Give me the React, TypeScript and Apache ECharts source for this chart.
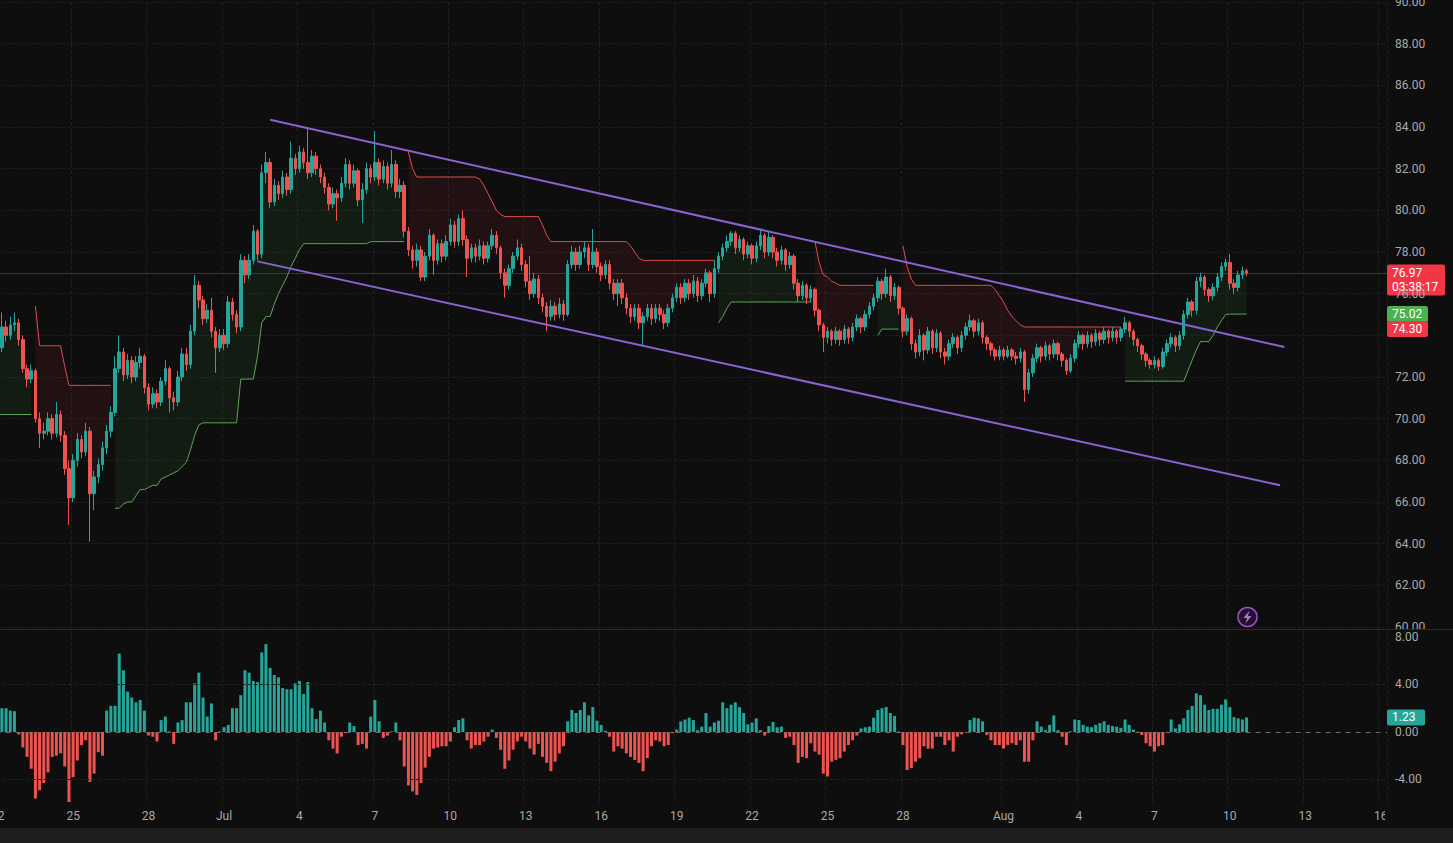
import React, { useEffect, useRef } from "react";
import * as echarts from "echarts";

// ---------- time axis (4h bars, Jun 22 00:00 onward) ----------
const MONTHS: [string, number][] = [["Jun", 30], ["Jul", 31], ["Aug", 31]];
const START_DAY = 22;
const SLOTS = 332;
const BARS_PER_DAY = 6;
const TICK_DAYS = [1, 4, 7, 10, 13, 16, 19, 22, 25, 28];

// ---------- candles [open, close, low, high] ----------
const CANDLES: number[][] = [
  // Jun 22
  [73.0, 73.4, 72.8, 73.9], [73.4, 74.4, 73.2, 75.1], [74.4, 74.0, 73.7, 74.7], [74.0, 74.5, 73.8, 74.9], [74.5, 74.6, 74.2, 75.1], [74.6, 73.8, 73.5, 74.8],
  // Jun 23
  [73.8, 72.4, 72.2, 74.0], [72.4, 71.9, 71.5, 72.6], [71.9, 72.3, 71.7, 72.6], [72.3, 70.0, 69.8, 72.4], [70.0, 69.3, 68.6, 70.3], [69.3, 69.4, 69.0, 69.8],
  // Jun 24
  [69.4, 70.0, 69.2, 70.3], [70.0, 69.3, 69.0, 70.2], [69.3, 70.2, 69.1, 70.8], [70.2, 69.2, 68.9, 70.4], [69.2, 67.6, 67.3, 69.4], [67.6, 66.2, 64.9, 68.0],
  // Jun 25
  [66.2, 68.0, 66.0, 68.3], [68.0, 69.0, 67.7, 69.3], [69.0, 68.4, 68.1, 69.2], [68.4, 69.4, 68.2, 69.8], [69.4, 66.4, 64.1, 69.6], [66.4, 67.2, 65.6, 67.5],
  // Jun 26
  [67.2, 67.8, 66.9, 68.1], [67.8, 68.6, 67.5, 68.9], [68.6, 69.4, 68.3, 69.7], [69.4, 70.3, 69.1, 70.6], [70.3, 72.4, 70.1, 73.0], [72.4, 73.2, 72.2, 74.0],
  // Jun 27
  [73.2, 72.1, 71.8, 73.4], [72.1, 72.8, 71.9, 73.1], [72.8, 72.0, 71.7, 73.0], [72.0, 72.7, 71.8, 73.0], [72.7, 73.0, 72.4, 73.4], [73.0, 71.5, 71.2, 73.1],
  // Jun 28
  [71.5, 70.7, 70.4, 71.7], [70.7, 71.2, 70.5, 71.5], [71.2, 70.8, 70.5, 71.4], [70.8, 71.8, 70.6, 72.0], [71.8, 72.4, 71.6, 72.8], [72.4, 71.0, 70.3, 72.5],
  // Jun 29
  [71.0, 70.8, 70.4, 71.3], [70.8, 72.0, 70.6, 72.3], [72.0, 73.1, 71.8, 73.4], [73.1, 72.6, 72.3, 73.4], [72.6, 74.2, 72.4, 74.5], [74.2, 76.4, 74.0, 76.9],
  // Jun 30
  [76.4, 75.7, 75.3, 76.6], [75.7, 74.8, 74.5, 75.9], [74.8, 75.2, 74.6, 75.5], [75.2, 74.2, 73.9, 75.8], [74.2, 73.4, 72.2, 74.4], [73.4, 74.0, 73.2, 74.3],
  // Jul 1
  [74.0, 73.6, 73.3, 74.3], [73.6, 75.6, 73.4, 75.9], [75.6, 75.0, 74.7, 75.8], [75.0, 74.4, 74.1, 75.2], [74.4, 77.6, 74.2, 77.9], [77.6, 76.9, 76.5, 77.8],
  // Jul 2
  [76.9, 77.6, 76.7, 77.9], [77.6, 79.0, 77.4, 79.3], [79.0, 77.9, 77.6, 79.1], [77.9, 81.8, 77.7, 82.2], [81.8, 82.3, 81.3, 82.8], [82.3, 80.4, 80.1, 82.5],
  // Jul 3
  [80.4, 81.2, 80.2, 81.5], [81.2, 80.8, 80.5, 81.4], [80.8, 81.6, 80.6, 81.9], [81.6, 81.0, 80.7, 81.8], [81.0, 82.5, 80.8, 83.3], [82.5, 82.0, 81.7, 82.7],
  // Jul 4
  [82.0, 82.8, 81.8, 83.1], [82.8, 82.3, 82.0, 83.0], [82.3, 81.8, 81.5, 84.0], [81.8, 82.6, 81.6, 82.9], [82.6, 82.0, 81.7, 82.8], [82.0, 81.6, 81.3, 82.2],
  // Jul 5
  [81.6, 81.1, 80.8, 81.8], [81.1, 80.3, 80.0, 81.3], [80.3, 80.8, 80.1, 81.1], [80.8, 80.6, 79.5, 81.0], [80.6, 81.3, 80.4, 81.6], [81.3, 82.2, 81.1, 82.5],
  // Jul 6
  [82.2, 81.3, 81.0, 82.4], [81.3, 81.9, 81.1, 82.2], [81.9, 80.5, 80.2, 82.0], [80.5, 81.0, 79.4, 81.3], [81.0, 82.0, 80.8, 82.3], [82.0, 81.6, 81.3, 82.2],
  // Jul 7
  [81.6, 82.3, 81.4, 83.8], [82.3, 81.5, 81.2, 82.5], [81.5, 82.1, 81.3, 82.4], [82.1, 81.3, 81.0, 82.3], [81.3, 82.2, 81.1, 82.9], [82.2, 80.9, 80.6, 82.4],
  // Jul 8
  [80.9, 81.2, 80.6, 81.5], [81.2, 79.0, 78.7, 81.4], [79.0, 78.1, 77.8, 79.2], [78.1, 77.6, 77.2, 78.3], [77.6, 78.1, 77.3, 78.4], [78.1, 76.8, 76.6, 78.3],
  // Jul 9
  [76.8, 77.8, 76.6, 78.0], [77.8, 78.8, 77.6, 79.1], [78.8, 77.6, 76.9, 78.9], [77.6, 78.4, 77.4, 78.6], [78.4, 77.8, 77.5, 78.6], [77.8, 78.5, 77.6, 78.8],
  // Jul 10
  [78.5, 79.3, 78.3, 79.6], [79.3, 78.5, 78.2, 79.5], [78.5, 79.6, 78.3, 79.8], [79.6, 78.6, 78.3, 80.0], [78.6, 77.7, 76.8, 78.8], [77.7, 78.2, 77.5, 78.4],
  // Jul 11
  [78.2, 77.8, 77.5, 78.4], [77.8, 78.3, 77.6, 78.6], [78.3, 77.7, 77.4, 78.5], [77.7, 78.3, 77.5, 78.5], [78.3, 78.8, 78.1, 79.1], [78.8, 78.2, 77.9, 79.0],
  // Jul 12
  [78.2, 77.0, 76.7, 78.3], [77.0, 76.4, 75.8, 77.2], [76.4, 77.2, 76.2, 77.4], [77.2, 77.8, 77.0, 78.0], [77.8, 78.2, 77.6, 78.6], [78.2, 77.4, 77.1, 78.4],
  // Jul 13
  [77.4, 76.6, 76.3, 77.6], [76.6, 76.0, 75.7, 77.8], [76.0, 76.7, 75.8, 77.0], [76.7, 75.8, 75.5, 76.9], [75.8, 75.4, 75.1, 76.0], [75.4, 74.9, 74.2, 75.6],
  // Jul 14
  [74.9, 75.4, 74.7, 75.7], [75.4, 75.0, 74.7, 75.6], [75.0, 75.5, 74.8, 75.8], [75.5, 75.0, 74.7, 75.7], [75.0, 77.4, 74.9, 77.6], [77.4, 78.0, 77.2, 78.3],
  // Jul 15
  [78.0, 77.4, 77.1, 78.2], [77.4, 78.0, 77.2, 78.3], [78.0, 78.2, 77.7, 78.5], [78.2, 77.4, 77.1, 78.4], [77.4, 78.0, 77.2, 79.1], [78.0, 77.3, 77.0, 78.2],
  // Jul 16
  [77.3, 76.9, 76.6, 77.5], [76.9, 77.4, 76.7, 77.6], [77.4, 76.5, 76.2, 77.6], [76.5, 76.0, 75.7, 76.7], [76.0, 76.5, 75.4, 76.7], [76.5, 75.8, 75.5, 76.7],
  // Jul 17
  [75.8, 75.3, 75.0, 76.0], [75.3, 74.9, 74.6, 75.5], [74.9, 75.3, 74.7, 75.5], [75.3, 74.6, 74.3, 75.5], [74.6, 74.9, 73.5, 75.1], [74.9, 75.3, 74.7, 75.5],
  // Jul 18
  [75.3, 74.8, 74.5, 75.5], [74.8, 75.3, 74.6, 75.5], [75.3, 75.0, 74.7, 75.5], [75.0, 74.6, 74.3, 75.2], [74.6, 75.3, 74.4, 75.5], [75.3, 75.8, 75.1, 76.0],
  // Jul 19
  [75.8, 76.3, 75.6, 76.5], [76.3, 75.8, 75.5, 76.5], [75.8, 76.5, 75.6, 76.7], [76.5, 76.0, 75.7, 76.7], [76.0, 76.6, 75.8, 76.9], [76.6, 75.9, 75.6, 76.8],
  // Jul 20
  [75.9, 76.5, 75.7, 76.7], [76.5, 77.0, 76.3, 77.2], [77.0, 76.0, 75.6, 77.1], [76.0, 77.2, 75.8, 77.6], [77.2, 77.8, 77.0, 78.0], [77.8, 78.2, 77.6, 78.4],
  // Jul 21
  [78.2, 78.5, 78.0, 78.8], [78.5, 78.9, 78.3, 79.0], [78.9, 78.2, 77.9, 79.0], [78.2, 78.6, 78.0, 78.8], [78.6, 77.9, 77.6, 78.7], [77.9, 78.3, 77.7, 78.5],
  // Jul 22
  [78.3, 77.7, 77.4, 78.4], [77.7, 78.3, 77.5, 78.5], [78.3, 78.8, 78.1, 79.1], [78.8, 78.0, 77.7, 78.9], [78.0, 78.7, 77.8, 79.0], [78.7, 78.0, 77.7, 78.8],
  // Jul 23
  [78.0, 77.6, 77.3, 78.2], [77.6, 78.1, 77.4, 78.3], [78.1, 77.4, 77.1, 78.2], [77.4, 77.8, 77.2, 78.0], [77.8, 76.5, 76.2, 77.9], [76.5, 75.9, 75.6, 76.7],
  // Jul 24
  [75.9, 76.4, 75.7, 76.6], [76.4, 75.8, 75.5, 76.5], [75.8, 76.2, 75.6, 76.4], [76.2, 75.2, 74.9, 76.3], [75.2, 74.5, 74.2, 75.3], [74.5, 73.9, 73.2, 74.6],
  // Jul 25
  [73.9, 74.2, 73.6, 74.4], [74.2, 73.8, 73.5, 74.3], [73.8, 74.2, 73.6, 74.4], [74.2, 73.8, 73.5, 74.3], [73.8, 74.3, 73.6, 74.5], [74.3, 73.9, 73.6, 74.4],
  // Jul 26
  [73.9, 74.4, 73.7, 74.6], [74.4, 74.8, 74.2, 75.0], [74.8, 74.4, 74.1, 74.9], [74.4, 75.0, 74.2, 75.2], [75.0, 75.4, 74.8, 75.6], [75.4, 75.8, 75.2, 76.0],
  // Jul 27
  [75.8, 76.6, 75.6, 76.8], [76.6, 76.0, 75.7, 76.7], [76.0, 76.8, 75.8, 77.2], [76.8, 75.9, 75.6, 76.9], [75.9, 76.3, 75.7, 76.5], [76.3, 75.3, 75.0, 76.4],
  // Jul 28
  [75.3, 74.2, 73.9, 75.4], [74.2, 74.8, 74.0, 75.0], [74.8, 73.6, 73.3, 74.9], [73.6, 73.2, 72.9, 73.8], [73.2, 74.0, 73.0, 74.3], [74.0, 73.3, 72.8, 74.1],
  // Jul 29
  [73.3, 74.2, 73.1, 74.4], [74.2, 73.4, 73.1, 74.3], [73.4, 74.1, 73.2, 74.3], [74.1, 73.2, 72.9, 74.2], [73.2, 73.0, 72.6, 73.4], [73.0, 73.6, 72.8, 73.8],
  // Jul 30
  [73.6, 73.9, 73.4, 74.1], [73.9, 73.4, 73.1, 74.0], [73.4, 74.0, 73.2, 74.2], [74.0, 74.4, 73.8, 74.6], [74.4, 74.7, 74.2, 75.0], [74.7, 74.2, 73.9, 74.8],
  // Jul 31
  [74.2, 74.6, 74.0, 74.8], [74.6, 73.9, 73.6, 74.7], [73.9, 73.6, 73.3, 74.0], [73.6, 73.3, 73.0, 73.7], [73.3, 73.0, 72.8, 73.4], [73.0, 73.3, 72.8, 73.5],
  // Aug 1
  [73.3, 73.0, 72.8, 73.4], [73.0, 73.3, 72.9, 73.5], [73.3, 73.0, 72.8, 73.4], [73.0, 72.9, 72.6, 73.2], [72.9, 73.2, 72.7, 73.4], [73.2, 71.4, 70.8, 73.3],
  // Aug 2
  [71.4, 72.2, 71.2, 72.4], [72.2, 72.9, 72.0, 73.1], [72.9, 73.4, 72.7, 73.6], [73.4, 73.0, 72.7, 73.5], [73.0, 73.5, 72.8, 73.7], [73.5, 73.1, 72.8, 73.6],
  // Aug 3
  [73.1, 73.6, 72.9, 73.8], [73.6, 73.1, 72.8, 73.7], [73.1, 72.8, 72.5, 73.2], [72.8, 72.3, 72.1, 72.9], [72.3, 72.9, 72.2, 73.1], [72.9, 73.6, 72.7, 73.8],
  // Aug 4
  [73.6, 74.0, 73.4, 74.2], [74.0, 73.6, 73.3, 74.1], [73.6, 74.0, 73.4, 74.2], [74.0, 73.7, 73.4, 74.1], [73.7, 74.1, 73.5, 74.3], [74.1, 73.8, 73.5, 74.2],
  // Aug 5
  [73.8, 74.2, 73.6, 74.4], [74.2, 73.9, 73.6, 74.3], [73.9, 74.2, 73.7, 74.4], [74.2, 73.9, 73.6, 74.3], [73.9, 74.3, 73.7, 74.4], [74.3, 74.6, 74.1, 74.9],
  // Aug 6
  [74.6, 74.2, 73.9, 74.7], [74.2, 73.8, 73.5, 74.3], [73.8, 73.5, 73.2, 73.9], [73.5, 73.1, 72.8, 73.6], [73.1, 72.8, 72.5, 73.2], [72.8, 72.6, 72.4, 72.9],
  // Aug 7
  [72.6, 72.8, 72.4, 73.0], [72.8, 72.5, 72.3, 72.9], [72.5, 73.2, 72.4, 73.4], [73.2, 73.6, 73.0, 73.8], [73.6, 73.9, 73.4, 74.1], [73.9, 73.5, 73.2, 74.0],
  // Aug 8
  [73.5, 74.0, 73.3, 74.2], [74.0, 75.0, 73.8, 75.2], [75.0, 75.6, 74.8, 75.8], [75.6, 75.2, 74.9, 75.7], [75.2, 76.6, 75.0, 76.8], [76.6, 76.8, 76.3, 77.0],
  // Aug 9
  [76.8, 76.2, 75.9, 76.9], [76.2, 75.9, 75.6, 76.3], [75.9, 76.3, 75.7, 76.5], [76.3, 76.8, 76.1, 77.0], [76.8, 77.3, 76.6, 77.5], [77.3, 77.5, 77.1, 77.7],
  // Aug 10
  [77.5, 76.5, 76.2, 77.9], [76.5, 76.3, 76.0, 76.7], [76.3, 76.9, 76.1, 77.1], [76.9, 77.1, 76.7, 77.3], [77.1, 76.97, 76.85, 77.2],
];

// ---------- supertrend level, as [value, number of bars] runs ----------
const ST_RUNS: [number, number][] = [
  [70.2, 9], [75.4, 1], [73.5, 6], [72.5, 1], [71.6, 11],
  [65.7, 2], [65.9, 1], [66.0, 2], [66.3, 1], [66.6, 2], [66.7, 1], [66.8, 2], [67.1, 1], [67.2, 1], [67.3, 1], [67.4, 1],
  [67.5, 1], [67.7, 1], [67.9, 1], [68.5, 1], [69.2, 1], [69.7, 1], [69.8, 9], [71.9, 4], [73.0, 1], [74.6, 1], [74.9, 2],
  [75.5, 1], [76.0, 1], [76.4, 1], [76.8, 1], [77.3, 1], [77.7, 1], [78.1, 1], [78.4, 16], [78.5, 9],
  [82.8, 1], [82.0, 1], [81.6, 15], [81.5, 1], [81.2, 1], [80.8, 1], [80.4, 1], [80.0, 1], [79.8, 1], [79.7, 9],
  [79.3, 1], [78.8, 1], [78.5, 19], [78.3, 1], [78.0, 1], [77.7, 1], [77.6, 18],
  [74.6, 1], [74.9, 1], [75.3, 1], [75.6, 20],
  [78.5, 1], [77.5, 1], [76.9, 1], [76.8, 1], [76.6, 1], [76.5, 1], [76.4, 9],
  [74.0, 1], [74.3, 5],
  [78.3, 1], [77.3, 1], [76.7, 1], [76.4, 19], [76.2, 1], [75.9, 1], [75.6, 1], [75.2, 1], [74.9, 1], [74.7, 1], [74.5, 1], [74.4, 24],
  [71.8, 15], [72.3, 1], [72.8, 1], [73.3, 1], [73.7, 3], [74.0, 1], [74.4, 1], [74.7, 1], [75.0, 1], [75.02, 5],
];
// [first bar, last bar, direction (1 up / -1 down)]
const TREND_SEGMENTS: [number, number, number][] = [
  [0, 8, 1], [9, 27, -1], [28, 97, 1], [98, 171, -1], [172, 194, 1],
  [195, 209, -1], [210, 215, 1], [216, 268, -1], [269, 298, 1],
];

// ---------- momentum histogram ----------
const MOMENTUM: number[] = [
  1.9, 2.0, 2.0, 1.8, 1.75, -0.2,
  -1.3, -2.1, -3.1, -5.6, -4.9, -4.3,
  -3.4, -2.1, -2.0, -1.8, -2.9, -5.9,
  -3.8, -2.4, -1.1, -0.7, -4.2, -3.5,
  -1.7, -2.0, 1.8, 2.2, 2.2, 6.6,
  5.2, 3.4, 2.9, 2.5, 2.7, 1.8,
  -0.3, -0.4, -0.8, 1.0, 1.3, 0.05,
  -1.0, 0.8, 1.0, 2.5, 2.5, 4.1,
  5.0, 2.9, 1.3, 2.4, -0.7, 0.05,
  0.4, 0.6, 2.0, 2.0, 3.1, 5.2,
  5.0, 4.3, 4.2, 6.7, 7.4, 5.4,
  4.8, 4.6, 3.7, 3.6, 3.6, 4.1,
  4.3, 3.2, 4.2, 2.0, 1.1, 1.8,
  0.8, -0.7, -1.4, -1.8, -0.4, -0.1,
  0.8, 0.5, -1.1, -1.0, -1.4, 1.3,
  2.7, 0.9, -0.5, -0.3, 0.05, 0.8,
  -0.7, -2.9, -4.5, -5.0, -5.3, -4.3,
  -3.0, -2.1, -1.4, -1.3, -1.2, -1.2,
  -0.8, 0.4, 1.0, 1.15, -0.7, -1.4,
  -1.1, -1.1, -0.8, -0.4, 0.2, -0.5,
  -1.5, -3.1, -2.4, -1.5, -0.8, -0.4,
  -0.8, -1.4, -1.9, -1.0, -2.1, -2.6,
  -3.3, -2.5, -1.8, -1.2, 0.9, 1.85,
  1.6, 1.85, 2.5, 1.4, 2.1, 0.95,
  0.6, 0.1, -0.4, -1.65, -1.2, -1.4,
  -1.8, -2.1, -2.35, -2.6, -3.3, -2.2,
  -1.2, -0.7, -0.8, -1.2, -1.1, -0.1,
  0.2, 0.9, 1.05, 1.2, 1.0, 0.15,
  0.45, 1.6, 0.45, 0.8, 0.95, 2.5,
  2.0, 2.3, 2.5, 2.1, 1.6, 0.65,
  0.8, 1.15, 0.15, -0.3, 0.5, 0.85,
  0.4, 0.45, -0.5, -0.4, -1.1, -2.6,
  -2.1, -2.2, -0.95, -1.65, -1.9, -3.5,
  -3.75, -2.5, -2.35, -2.2, -1.65, -1.1,
  -0.7, -0.3, 0.3, 0.4, 0.45, 1.2,
  1.85, 2.0, 2.1, 1.6, 1.35, 0.05,
  -1.1, -3.2, -3.05, -2.5, -2.2, -1.2,
  -1.4, -1.4, -0.4, -0.4, -1.1, -0.7,
  -1.65, -0.4, -0.2, -0.05, 1.0, 1.2,
  1.15, 0.9, -0.25, -0.7, -1.1, -1.1,
  -1.4, -1.1, -0.95, -1.1, -0.7, -2.5,
  -2.5, -0.7, 0.9, 0.45, 0.15, 0.6,
  1.4, 0.15, -0.4, -1.1, 0.05, 1.05,
  1.0, 0.6, 0.45, 0.4, 0.6, 0.75,
  0.9, 0.6, 0.5, 0.45, 0.35, 1.05,
  0.6, 0.2, 0.02, -0.25, -0.95, -1.2,
  -1.65, -1.2, -1.1, -0.05, 1.05, 0.3,
  0.65, 1.15, 1.85, 2.2, 3.25, 3.1,
  2.3, 1.85, 1.95, 1.95, 2.3, 2.75,
  2.1, 1.25, 1.15, 1.05, 1.23,
];

// ---------- drawn channel (bar index, price) ----------
const CHANNEL_UPPER: [number, number][] = [[65, 84.35], [307, 73.44]];
const CHANNEL_LOWER: [number, number][] = [[62, 77.55], [306, 66.8]];

// ---------- scale tags ----------
const LAST_PRICE = 76.97;
const COUNTDOWN = "03:38:17";
const ST_UP_TAG = 75.02;
const ST_DN_TAG = 74.3;
const MOM_TAG = 1.23;
const PRICE_MIN = 60, PRICE_MAX = 90, PRICE_STEP = 2;
const PRICE_HIDDEN = [74]; // fully covered by the tags in the reference
const MOM_LABELS = [-4, 0, 4, 8];

const UP = "#26a69a";
const DOWN = "#ef5350";
const BG = "#0e0e0e";
const TXT = "#a9a9a9";
const FONT = "Roboto, 'Noto Sans', sans-serif";

function buildCategories() {
  const cats: string[] = [];
  const meta: { mon: string; day: number; hour: number }[] = [];
  let m = 0, d = START_DAY, h = 0;
  for (let i = 0; i < SLOTS; i++) {
    cats.push(`${MONTHS[m][0]} ${d} ${String(h).padStart(2, "0")}:00`);
    meta.push({ mon: MONTHS[m][0], day: d, hour: h });
    h += 24 / BARS_PER_DAY;
    if (h >= 24) {
      h = 0; d++;
      if (d > MONTHS[m][1]) { d = 1; m++; }
    }
  }
  return { cats, meta };
}

export default function App() {
  const ref = useRef<HTMLDivElement>(null);
  useEffect(() => {
    document.body.style.margin = "0";
    document.body.style.background = BG;
    const chart = echarts.init(ref.current!, undefined, { renderer: "svg" });
    const { cats, meta } = buildCategories();
    const isTick = (i: number) => !!meta[i] && meta[i].hour === 0 && TICK_DAYS.includes(meta[i].day);

    const st: number[] = [];
    ST_RUNS.forEach(([v, n]) => { for (let k = 0; k < n; k++) st.push(v); });
    const trend: number[] = new Array(CANDLES.length).fill(0);
    TREND_SEGMENTS.forEach(([a, b, dir]) => { for (let k = a; k <= b; k++) trend[k] = dir; });
    const mid = CANDLES.map((r) => (r[0] + r[1]) / 2);

    const upLine = st.map((v, i) => (trend[i] === 1 ? v : null));
    const dnLine = st.map((v, i) => (trend[i] === -1 ? v : null));
    const upBase = st.map((v, i) => (trend[i] === 1 ? v : "-"));
    const upBand = st.map((v, i) => (trend[i] === 1 ? Math.max(0, mid[i] - v) : "-"));
    const dnBase = mid.map((v, i) => (trend[i] === -1 ? v : "-"));
    const dnBand = st.map((v, i) => (trend[i] === -1 ? Math.max(0, v - mid[i]) : "-"));

    const gridLeft = -4.4, gridRight = 66;
    const hiddenLine = { lineStyle: { opacity: 0 }, symbol: "none", showSymbol: false };
    const momMin = -6.15, momMax = 8.59;

    chart.setOption({
      animation: false,
      backgroundColor: BG,
      textStyle: { fontFamily: FONT },
      grid: [
        { left: gridLeft, right: gridRight, top: 2, height: 625, outerBoundsMode: "none", containLabel: false },
        { left: gridLeft, right: gridRight, top: 630, height: 175, outerBoundsMode: "none", containLabel: false },
      ],
      xAxis: [
        {
          type: "category", gridIndex: 0, data: cats, boundaryGap: true,
          axisLine: { show: false }, axisTick: { show: false }, axisLabel: { show: false },
          splitLine: { show: true, interval: (i: number) => isTick(i), lineStyle: { color: "#1e1e1e", type: "dashed" } },
        },
        {
          type: "category", gridIndex: 1, data: cats, boundaryGap: true,
          axisLine: { show: false }, axisTick: { show: false },
          axisLabel: {
            interval: (i: number) => isTick(i),
            formatter: (_v: string, i: number) => (meta[i].day === 1 ? meta[i].mon : String(meta[i].day)),
            color: TXT, fontSize: 12, margin: 5, fontFamily: FONT,
          },
          splitLine: { show: true, interval: (i: number) => isTick(i), lineStyle: { color: "#1e1e1e", type: "dashed" } },
        },
      ],
      yAxis: [
        {
          type: "value", gridIndex: 0, position: "right", min: PRICE_MIN, max: PRICE_MAX, interval: PRICE_STEP, z: 1,
          axisLine: { show: false }, axisTick: { show: false },
          axisLabel: { formatter: (v: number) => (PRICE_HIDDEN.includes(v) ? "" : v.toFixed(2)), color: TXT, fontSize: 12, margin: 8, fontFamily: FONT },
          splitLine: { show: true, lineStyle: { color: "#1c1c1c", type: "dashed" } },
        },
        {
          type: "value", gridIndex: 1, position: "right", min: momMin, max: momMax, z: 3,
          axisLine: { show: false }, axisTick: { show: false, customValues: MOM_LABELS },
          axisLabel: { customValues: MOM_LABELS, formatter: (v: number) => v.toFixed(2), color: TXT, fontSize: 12, margin: 8, fontFamily: FONT },
          splitLine: { show: false },
        },
      ],
      series: [
        { name: "upBase", type: "line", xAxisIndex: 0, yAxisIndex: 0, stack: "up", data: upBase, ...hiddenLine, z: 1, silent: true },
        { name: "upBand", type: "line", xAxisIndex: 0, yAxisIndex: 0, stack: "up", data: upBand, ...hiddenLine, areaStyle: { color: "rgba(76,175,80,0.13)" }, z: 1, silent: true },
        { name: "dnBase", type: "line", xAxisIndex: 0, yAxisIndex: 0, stack: "dn", data: dnBase, ...hiddenLine, z: 1, silent: true },
        { name: "dnBand", type: "line", xAxisIndex: 0, yAxisIndex: 0, stack: "dn", data: dnBand, ...hiddenLine, areaStyle: { color: "rgba(242,54,69,0.13)" }, z: 1, silent: true },
        { name: "Up Trend", type: "line", xAxisIndex: 0, yAxisIndex: 0, data: upLine, symbol: "none", lineStyle: { color: "#5fa35a", width: 1 }, z: 2, silent: true },
        { name: "Down Trend", type: "line", xAxisIndex: 0, yAxisIndex: 0, data: dnLine, symbol: "none", lineStyle: { color: "#e24a4f", width: 1 }, z: 2, silent: true },
        {
          name: "Price", type: "candlestick", xAxisIndex: 0, yAxisIndex: 0, data: CANDLES, barWidth: 3, z: 3,
          itemStyle: { color: UP, color0: DOWN, borderColor: UP, borderColor0: DOWN, borderWidth: 1 },
          markLine: {
            silent: true, symbol: ["none", "none"], label: { show: false },
            lineStyle: { color: "#f23645", type: "dotted", width: 1, opacity: 0.8 },
            data: [{ yAxis: LAST_PRICE }],
          },
        },
        { name: "Channel top", type: "line", xAxisIndex: 0, yAxisIndex: 0, data: CHANNEL_UPPER, symbol: "none", lineStyle: { color: "#8a63d2", width: 2 }, z: 4, silent: true },
        { name: "Channel bottom", type: "line", xAxisIndex: 0, yAxisIndex: 0, data: CHANNEL_LOWER, symbol: "none", lineStyle: { color: "#8a63d2", width: 2 }, z: 4, silent: true },
        {
          name: "Momentum", type: "bar", xAxisIndex: 1, yAxisIndex: 1, data: MOMENTUM, barWidth: 3,
          itemStyle: { color: (p: any) => (p.value >= 0 ? UP : DOWN) },
          markLine: {
            silent: true, symbol: ["none", "none"], label: { show: false },
            data: [
              { yAxis: 0, lineStyle: { color: "#6a6a6a", type: [5, 5], width: 1 } },
              { yAxis: 4, lineStyle: { color: "#1e1e1e", type: "dashed", width: 1 } },
              { yAxis: -4, lineStyle: { color: "#1e1e1e", type: "dashed", width: 1 } },
            ],
          },
        },
      ],
    });

    const py = (v: number) => chart.convertToPixel({ yAxisIndex: 0 }, v) as number;
    const my = (v: number) => chart.convertToPixel({ yAxisIndex: 1 }, v) as number;
    const tagX = 1387;
    const tag = (y: number, w: number, color: string, text: string) => ({
      type: "group", z: 100,
      children: [
        { type: "rect", shape: { x: tagX, y: y - 8, width: w, height: 16, r: 2 }, style: { fill: color } },
        { type: "text", style: { x: tagX + 5, y, text, fill: "#ffffff", font: `12px ${FONT}`, verticalAlign: "middle" } },
      ],
    });
    const lp = py(LAST_PRICE);
    chart.setOption({
      graphic: [
        // pane separator clips the bottom of the lowest price label
        { type: "rect", z: 2, shape: { x: 1388, y: 630, width: 65, height: 4 }, style: { fill: BG } },
        { type: "line", z: 2, shape: { x1: 0, y1: 629.5, x2: 1453, y2: 629.5 }, style: { stroke: "#2a2a2a", lineWidth: 1 } },
        { type: "rect", z: 50, shape: { x: 0, y: 828, width: 1453, height: 15 }, style: { fill: "#1f1f1f" } },
        { type: "rect", z: 50, shape: { x: 1385, y: 806, width: 68, height: 22 }, style: { fill: BG } },
        {
          type: "group", z: 100,
          children: [
            { type: "rect", shape: { x: tagX, y: lp - 9, width: 58, height: 31, r: 2 }, style: { fill: "#f23645" } },
            { type: "text", style: { x: tagX + 5, y: lp, text: LAST_PRICE.toFixed(2), fill: "#ffffff", font: `12px ${FONT}`, verticalAlign: "middle" } },
            { type: "text", style: { x: tagX + 5, y: lp + 14, text: COUNTDOWN, fill: "#ffffff", font: `12px ${FONT}`, verticalAlign: "middle" } },
          ],
        },
        tag(py(ST_UP_TAG), 41, "#4caf50", ST_UP_TAG.toFixed(2)),
        tag(py(ST_DN_TAG), 41, "#f23645", ST_DN_TAG.toFixed(2)),
        tag(my(MOM_TAG), 38, UP, MOM_TAG.toFixed(2)),
        {
          type: "group", z: 100,
          children: [
            { type: "circle", shape: { cx: 1247.5, cy: 617, r: 9.5 }, style: { fill: "rgba(156,77,204,0.12)", stroke: "#a04fd6", lineWidth: 1.5 } },
            { type: "polygon", shape: { points: [[1249.5, 610.5], [1243.5, 618], [1247, 618], [1245.5, 623.5], [1251.5, 616], [1248, 616]] }, style: { fill: "#b46be6" } },
          ],
        },
      ],
    });

    return () => chart.dispose();
  }, []);
  return <div ref={ref} style={{ position: "fixed", left: 0, top: 0, width: 1453, height: 843 }} />;
}
